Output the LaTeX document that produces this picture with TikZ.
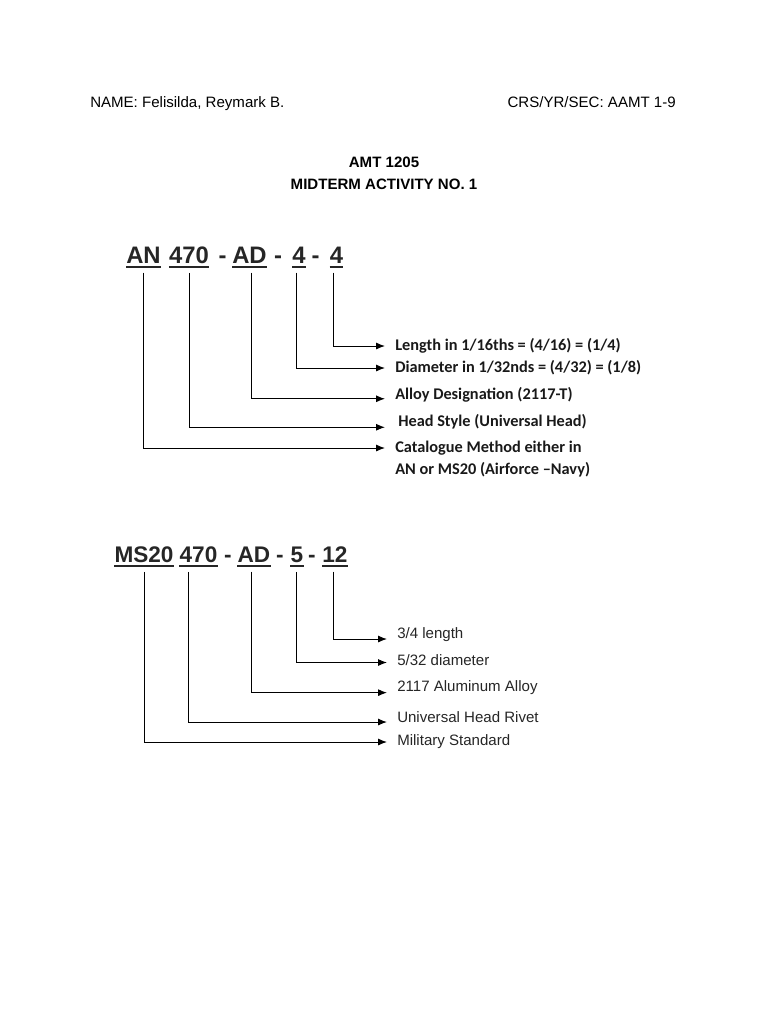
\documentclass[tikz,border=0pt]{standalone}
\usepackage{fontspec}
\setmainfont{Liberation Sans}
\newfontfamily\calibri{Carlito}
\usetikzlibrary{arrows.meta, positioning}

\begin{document}
\begin{tikzpicture}[
    x=0.797pt, y=-0.797pt,
    head/.style={font=\fontsize{12}{14}\selectfont, inner sep=0pt},
    title/.style={font=\fontsize{12}{14}\selectfont\bfseries, inner sep=0pt},
    part/.style={font=\fontsize{19}{22}\selectfont\bfseries, inner sep=0pt,
                 anchor=base, text=black!85},
    partb/.style={part, font=\fontsize{18}{21}\selectfont\bfseries},
    desc/.style={font=\calibri\fontsize{13}{15}\selectfont\bfseries,
                 inner sep=0pt, anchor=west, text=black!90},
    descb/.style={font=\fontsize{12}{14}\selectfont, inner sep=0pt,
                  anchor=west, text=black!85},
    arrow/.style={-{Latex[length=7pt,width=5.5pt]}, line width=0.75pt,
                  shorten <=7.5pt, shorten >=8pt},
    uline/.style={line width=1.6pt, black!85}
]
\useasboundingbox (0,0) rectangle (768,1024);

%% Header
\node[head, anchor=base west] (name) at (90,107) {NAME: Felisilda, Reymark B.};
\node[head, anchor=base east] (crs) at (676,107) {CRS/YR/SEC: AAMT 1-9};
\node[title] (course) at (384,162) {AMT 1205};
\node[title] (activity) at (384,184) {MIDTERM ACTIVITY NO. 1};

%% AN part number
\node[part] (an)   at (143.5,263) {AN};
\node[part] (ahs)  at (189,263)   {470};
\node[part] (ad1)  at (222.5,263) {-};
\node[part] (aal)  at (249.5,263) {AD};
\node[part] (ad2)  at (278,263)   {-};
\node[part] (adia) at (299,263)   {4};
\node[part] (ad3)  at (315.5,263) {-};
\node[part] (alen) at (336.5,263) {4};

%% AN meanings
\node[desc] (tlen)   at (395,346) {Length in 1/16ths = (4/16) = (1/4)};
\node[desc] (tdia)   at (395,368) {Diameter in 1/32nds = (4/32) = (1/8)};
\node[desc] (talloy) at (395,395) {Alloy Designation (2117-T)};
\node[desc] (thead)  at (398,422) {Head Style (Universal Head)};
\node[desc] (tcat)   at (395,448) {Catalogue Method either in};
\node[desc] (tcat2)  at (395,470) {AN or MS20 (Airforce –Navy)};

%% MS20 part number
\node[partb] (ms)   at (144,562)   {MS20};
\node[partb] (mhs)  at (198.5,562) {470};
\node[partb] (md1)  at (228,562)   {-};
\node[partb] (mal)  at (254,562)   {AD};
\node[partb] (md2)  at (280,562)   {-};
\node[partb] (mdia) at (297,562)   {5};
\node[partb] (md3)  at (312,562)   {-};
\node[partb] (mlen) at (335,562)   {12};

%% MS20 meanings
\node[descb] (blen)   at (397,635) {3/4 length};
\node[descb] (bdia)   at (397,660) {5/32 diameter};
\node[descb] (balloy) at (397,688) {2117 Aluminum Alloy};
\node[descb] (bhead)  at (397,717) {Universal Head Rivet};
\node[descb] (bstd)   at (397,742) {Military Standard};

%% Underlines
\foreach \n in {an,ahs,aal,adia,alen,ms,mhs,mal,mdia,mlen}
    \draw[uline] ([yshift=-3pt]\n.south west) -- ([yshift=-3pt]\n.south east);

%% Arrows: AN
\draw[arrow] ([xshift=-2.8pt]alen.south) |- (tlen.west);
\draw[arrow] ([xshift=-2.4pt]adia.south) |- (tdia.west);
\draw[arrow] ([xshift=1.2pt]aal.south) |- ([yshift=-3pt]talloy.west);
\draw[arrow] (ahs.south) |- ([yshift=-4.2pt,xshift=-2.4pt]thead.west);
\draw[arrow] (an.south) |- (tcat.west);

%% Arrows: MS20
\draw[arrow] ([xshift=-1.6pt]mlen.south) |- ([yshift=-3.2pt]blen.west);
\draw[arrow] ([xshift=-0.8pt]mdia.south) |- ([yshift=-2pt]bdia.west);
\draw[arrow] ([xshift=-2.4pt]mal.south) |- ([yshift=-3.7pt]balloy.west);
\draw[arrow] ([xshift=-7.6pt]mhs.south) |- ([yshift=-4pt]bhead.west);
\draw[arrow] (ms.south) |- (bstd.west);

\end{tikzpicture}
\end{document}
